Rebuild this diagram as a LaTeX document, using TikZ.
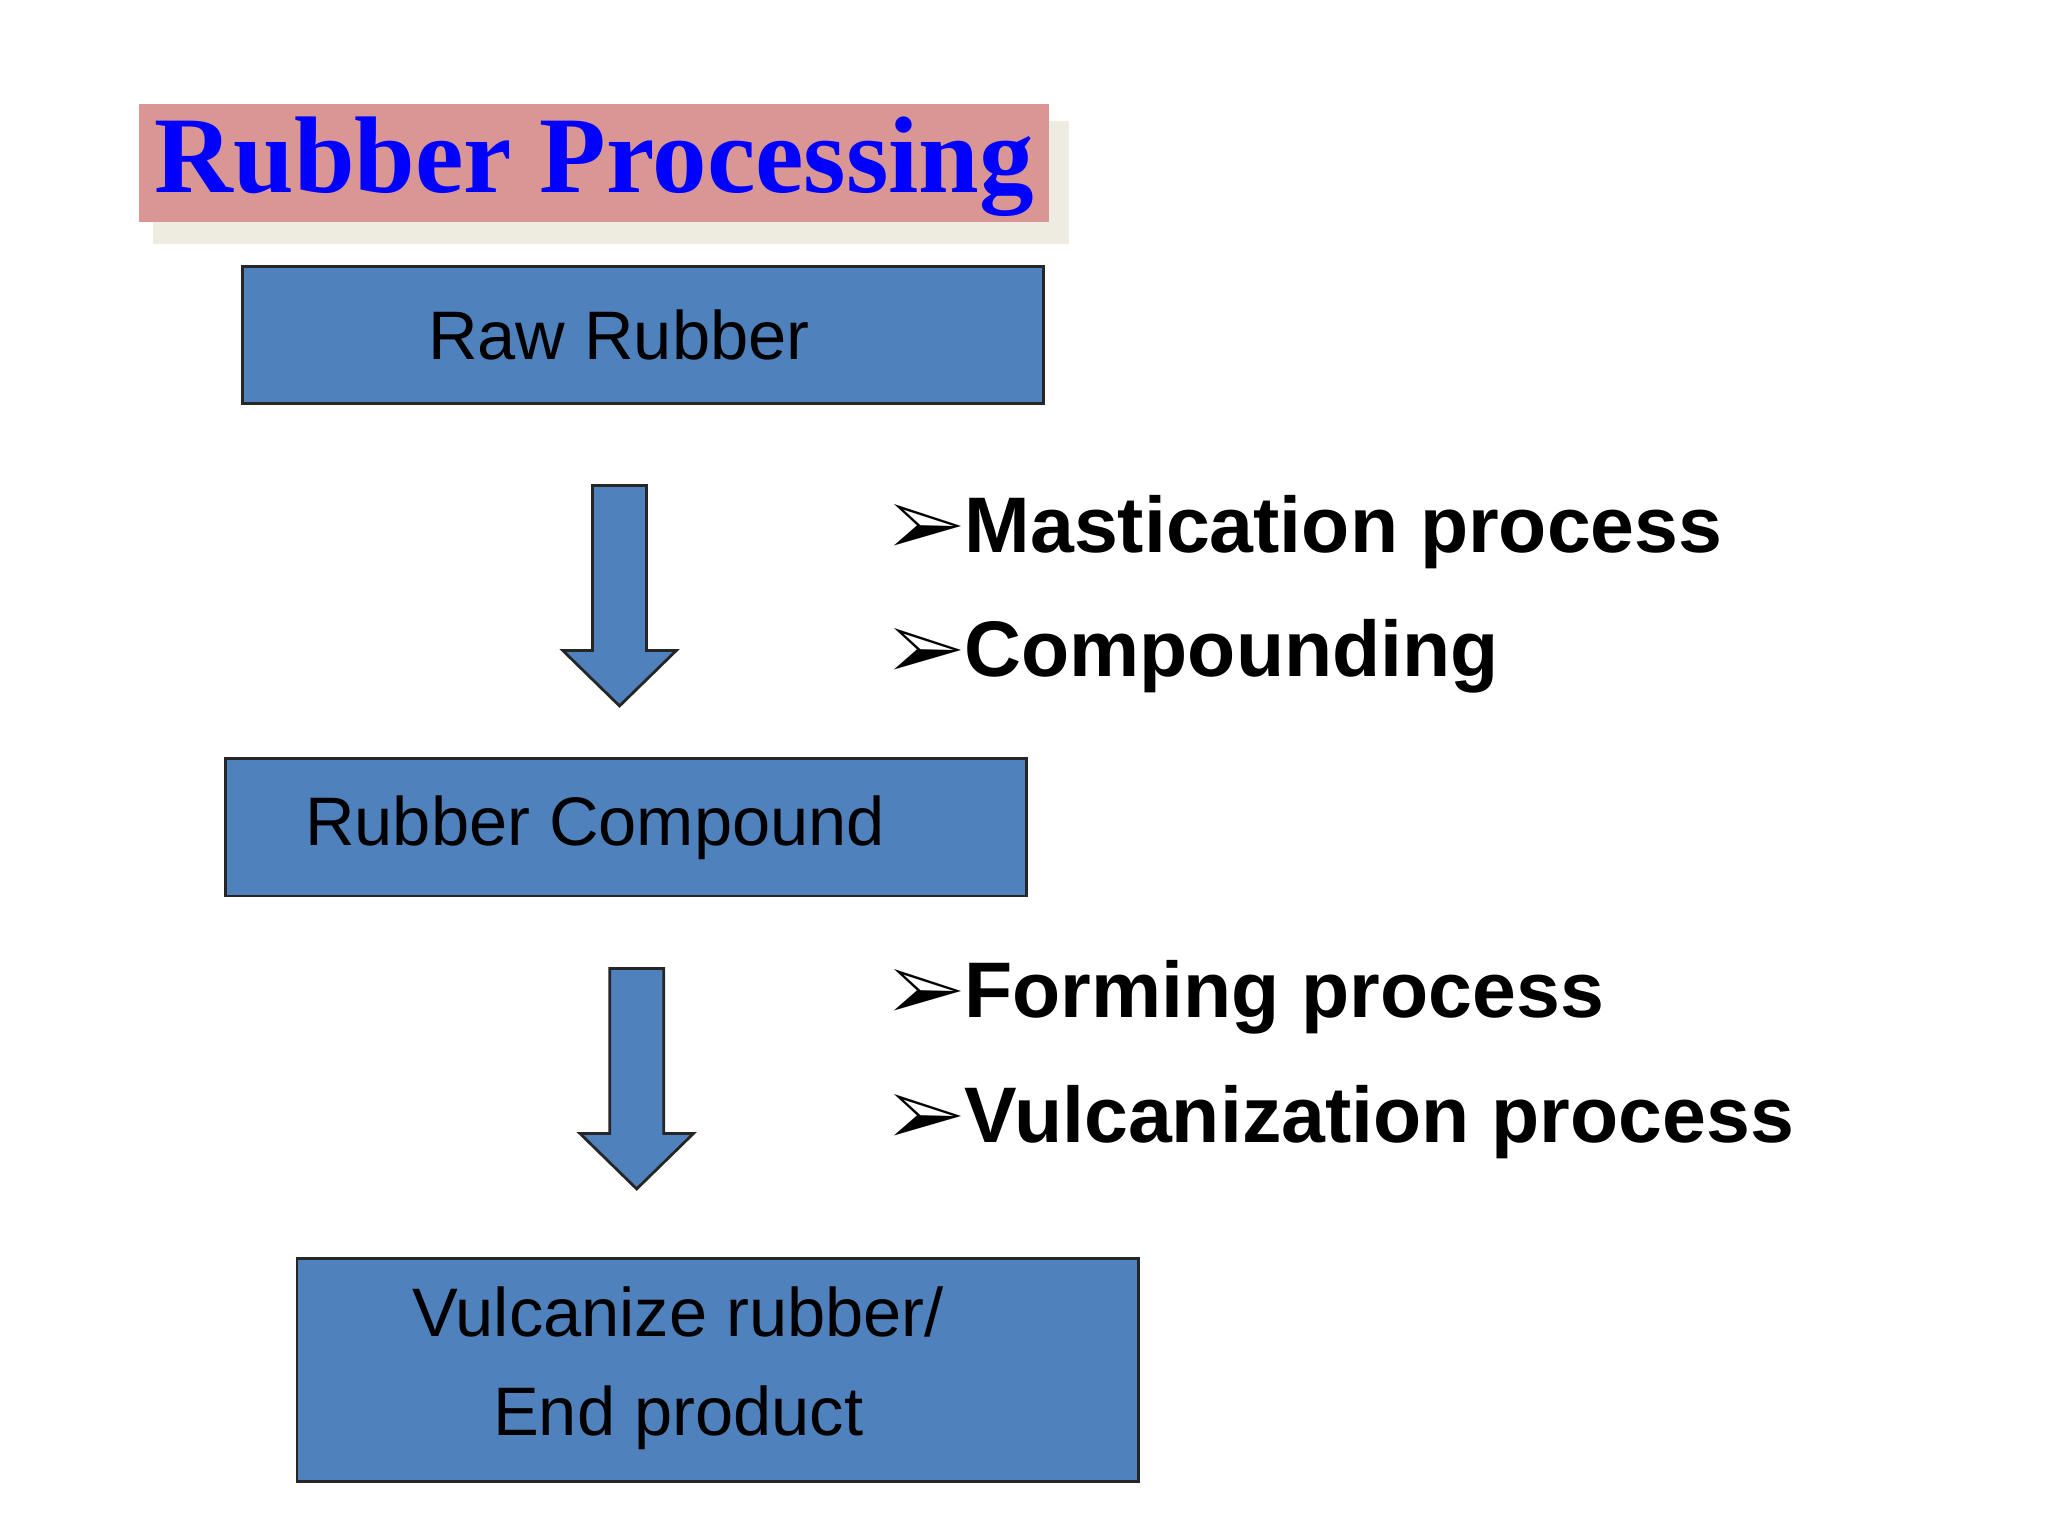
\documentclass[tikz,border=0pt]{standalone}
\usepackage{fontspec}
\setmainfont{Liberation Sans}
\newfontfamily\titlefont{Liberation Serif}
\usepackage{pifont}
\usetikzlibrary{positioning}
\definecolor{boxblue}{HTML}{4F81BD}
\definecolor{titlepink}{HTML}{D99694}
\definecolor{shadowbeige}{HTML}{EEECE1}
\definecolor{titleblue}{HTML}{0000FF}
\tikzset{
    stepbox/.style={draw=black!85, fill=boxblue, line width=0.6pt, inner sep=0pt},
    steptext/.style={font=\fontsize{14.8}{18}\selectfont, align=center, inner sep=0pt},
    bullet/.style={font=\fontsize{17}{20}\selectfont\bfseries, anchor=west, inner sep=0pt},
    downarrow/.pic={
      \draw[draw=black!85, fill=boxblue, line width=0.6pt]
        (-0.205,0) -- (0.205,0) -- (0.205,-1.25) -- (0.43,-1.25)
        -- (0,-1.67) -- (-0.43,-1.25) -- (-0.205,-1.25) -- cycle;
    },
}
\begin{document}
\begin{tikzpicture}
    \useasboundingbox (0,0) rectangle (15.52,11.64);

    % title
    \fill[shadowbeige] (1.16,9.79) rectangle (8.10,10.72);
    \node[fill=titlepink, minimum width=6.90cm, minimum height=0.89cm, inner sep=0pt] (title) at (4.50,10.405) {};
    \node[font=\titlefont\fontsize{23.5}{26}\selectfont\bfseries, text=titleblue] (titletext) at (4.505,10.38) {Rubber Processing};

    % process boxes
    \node[stepbox, minimum width=6.07cm, minimum height=1.04cm] (raw) at (4.875,9.10) {};
    \node[steptext] (rawtext) at (4.69,9.10) {Raw Rubber};
    \node[stepbox, minimum width=6.07cm, minimum height=1.04cm] (compound) at (4.745,5.37) {};
    \node[steptext] (compoundtext) at (4.51,5.37) {Rubber Compound};
    \node[stepbox, minimum width=6.38cm, minimum height=1.69cm] (product) at (5.44,1.255) {};
    \node[steptext] (producttext) at (5.14,1.27) {Vulcanize rubber/\\[0.12cm]End product};

    % arrows
    \pic at (4.695,7.96) {downarrow};
    \pic at (4.825,4.30) {downarrow};

    % steps
    \node[bullet] (mast) at (6.75,7.61) {\ding{226}Mastication process};
    \node[bullet] (comp) at (6.75,6.67) {\ding{226}Compounding};
    \node[bullet] (form) at (6.75,4.08) {\ding{226}Forming process};
    \node[bullet] (vulc) at (6.75,3.14) {\ding{226}Vulcanization process};
\end{tikzpicture}
\end{document}
